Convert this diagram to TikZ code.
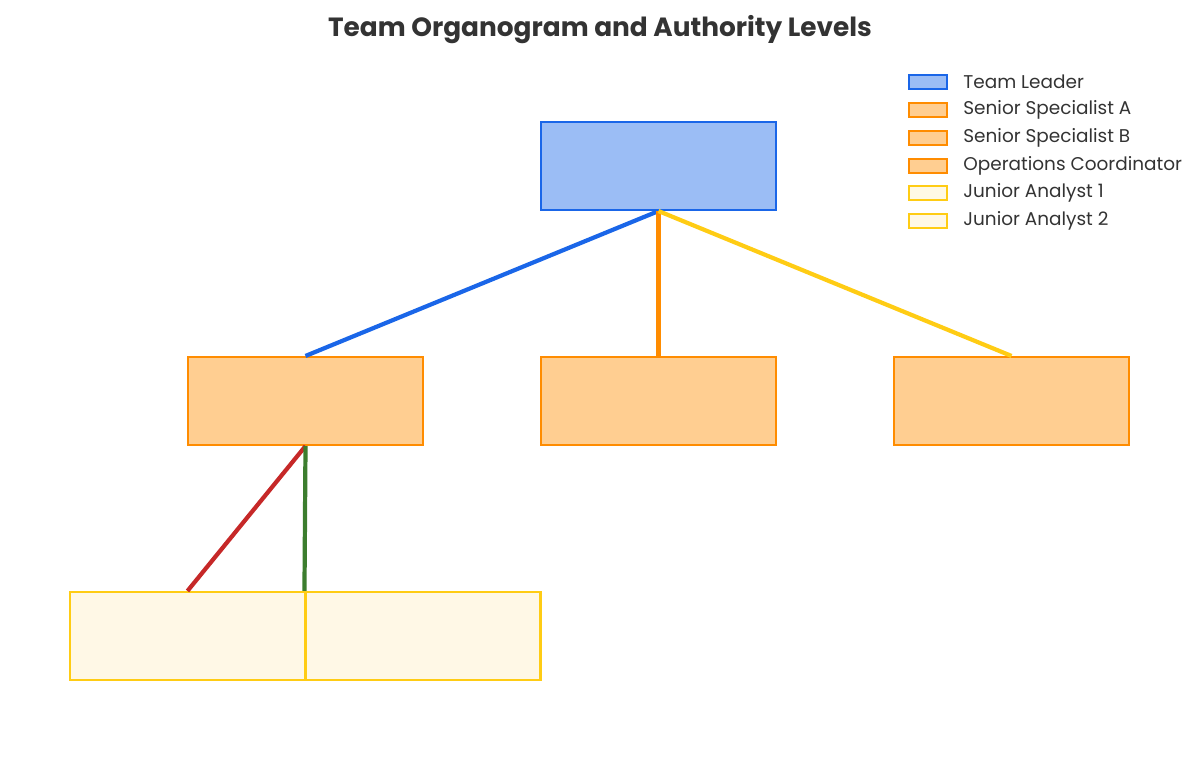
\documentclass[tikz,border=0pt]{standalone}
\usepackage{fontspec}
\setmainfont{Poppins}
\usetikzlibrary{positioning}
\definecolor{leadfill}{HTML}{9BBDF5}
\definecolor{leadline}{HTML}{1A66E8}
\definecolor{specfill}{HTML}{FFCE91}
\definecolor{specline}{HTML}{FF8C00}
\definecolor{junfill}{HTML}{FFF8E6}
\definecolor{junline}{HTML}{FFCC14}
\definecolor{redline}{HTML}{C62828}
\definecolor{greenline}{HTML}{3C7D2E}
\definecolor{textgray}{HTML}{333333}
\tikzset{
  box/.style={draw, line width=1.2pt, minimum width=4.7cm, minimum height=1.76cm, inner sep=0pt},
  lead/.style={box, draw=leadline, fill=leadfill},
  spec/.style={box, draw=specline, fill=specfill},
  junior/.style={box, draw=junline, fill=junfill},
  link/.style={line width=2.4pt},
  swatch/.style={draw, line width=1.2pt, minimum width=0.76cm, minimum height=0.28cm, inner sep=0pt},
  entry/.style={right=0.3cm of #1, inner sep=0pt, text=textgray, font=\fontsize{10.5}{12}\selectfont}
}
\begin{document}
\begin{tikzpicture}[x=0.02cm,y=-0.02cm]
    \useasboundingbox (0,0) rectangle (1200,763);
    % Title
    \node[font=\bfseries\fontsize{15}{18}\selectfont, text=textgray] (title) at (600,30) {Team Organogram and Authority Levels};

    % Boxes
    \node[lead] (leader) at (658.5,166) {};
    \node[spec] (specA) at (305.5,401) {};
    \node[spec] (specB) at (658.5,401) {};
    \node[spec] (coord) at (1011.5,401) {};
    \node[junior] (jun1) at (187.5,636) {};
    \node[junior] (jun2) at (423,636) {};

    % Links
    \draw[link, leadline] (leader.south) -- (specA.north);
    \draw[link, specline] (leader.south) -- (specB.north);
    \draw[link, junline] (leader.south) -- (coord.north);
    \draw[link, redline] (specA.south) -- (jun1.north);
    \draw[link, greenline] (specA.south) -- (jun2.north west);

    % Legend
    \node[swatch, draw=leadline, fill=leadfill] (sw1) at (928,82) {};
    \node[swatch, draw=specline, fill=specfill] (sw2) at (928,110) {};
    \node[swatch, draw=specline, fill=specfill] (sw3) at (928,138) {};
    \node[swatch, draw=specline, fill=specfill] (sw4) at (928,166) {};
    \node[swatch, draw=junline, fill=junfill!60!junline!25] (sw5) at (928,193) {};
    \node[swatch, draw=junline, fill=junfill] (sw6) at (928,221) {};
    \node[entry=sw1, anchor=west] (lg1) {Team Leader};
    \node[entry=sw2, anchor=west] (lg2) {Senior Specialist A};
    \node[entry=sw3, anchor=west] (lg3) {Senior Specialist B};
    \node[entry=sw4, anchor=west] (lg4) {Operations Coordinator};
    \node[entry=sw5, anchor=west] (lg5) {Junior Analyst 1};
    \node[entry=sw6, anchor=west] (lg6) {Junior Analyst 2};
\end{tikzpicture}
\end{document}
